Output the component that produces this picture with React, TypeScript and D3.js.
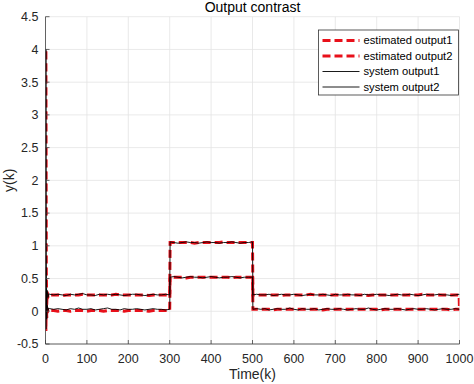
import React from 'react';
import * as d3 from 'd3';

// sample instants (k)
const kTimes = [
  0, 1, 2, 3, 4, 6, 8,
  10, 20, 30, 40, 50, 60, 70, 80, 90, 100, 110, 120, 130, 140, 150, 160, 170, 180, 190, 200,
  210, 220, 230, 240, 250, 260, 270, 280, 290, 300,
  301, 310, 320, 330, 340, 350, 360, 370, 380, 390, 400, 410, 420, 430, 440, 450, 460, 470, 480, 490, 500,
  501, 510, 520, 530, 540, 550, 560, 570, 580, 590, 600, 610, 620, 630, 640, 650, 660, 670, 680, 690, 700,
  710, 720, 730, 740, 750, 760, 770, 780, 790, 800, 810, 820, 830, 840, 850, 860, 870, 880, 890, 900,
  910, 920, 930, 940, 950, 960, 970, 980, 990, 999, 1000,
];

const estOutput1 = [
  0, 4.0, 0.6, 0.1, 0.3, 0.22, 0.25,
  0.25, 0.25, 0.25, 0.24, 0.25, 0.25, 0.25, 0.25, 0.26, 0.25, 0.25, 0.25, 0.25, 0.25, 0.25, 0.25, 0.26, 0.25, 0.25, 0.25,
  0.25, 0.25, 0.25, 0.25, 0.24, 0.25, 0.25, 0.25, 0.25, 0.25,
  1.05, 1.05, 1.05, 1.05, 1.05, 1.05, 1.04, 1.05, 1.05, 1.05, 1.05, 1.05, 1.05, 1.06, 1.05, 1.05, 1.05, 1.05, 1.05, 1.05, 1.05,
  0.25, 0.25, 0.25, 0.25, 0.25, 0.25, 0.25, 0.24, 0.25, 0.25, 0.25, 0.25, 0.25, 0.25, 0.26, 0.25, 0.25, 0.25, 0.25, 0.25,
  0.25, 0.25, 0.25, 0.25, 0.25, 0.25, 0.25, 0.25, 0.24, 0.25, 0.25, 0.25, 0.25, 0.25, 0.25, 0.25, 0.25, 0.25, 0.25, 0.25,
  0.25, 0.26, 0.25, 0.25, 0.25, 0.25, 0.25, 0.25, 0.25, 0.25, 0.25, 0.03,
];

const estOutput2 = [
  0, -0.3, 0.25, -0.1, 0.05, 0.0, 0.02,
  0.01, 0.01, 0.0, 0.01, 0.01, 0.0, 0.01, 0.01, 0.01, 0.0, 0.01, 0.01, 0.01, 0.0, 0.01, 0.01, 0.01, 0.01, 0.0, 0.01,
  0.01, 0.01, 0.01, 0.01, 0.0, 0.01, 0.01, 0.01, 0.01, 0.01,
  0.52, 0.52, 0.52, 0.52, 0.51, 0.52, 0.52, 0.52, 0.52, 0.52, 0.52, 0.52, 0.52, 0.52, 0.52, 0.51, 0.52, 0.52, 0.52, 0.52, 0.52,
  0.03, 0.03, 0.03, 0.03, 0.03, 0.02, 0.03, 0.03, 0.03, 0.03, 0.03, 0.03, 0.03, 0.03, 0.03, 0.03, 0.03, 0.02, 0.03, 0.03,
  0.03, 0.03, 0.03, 0.03, 0.03, 0.03, 0.03, 0.03, 0.03, 0.03, 0.03, 0.02, 0.03, 0.03, 0.03, 0.03, 0.03, 0.03, 0.03, 0.03,
  0.03, 0.03, 0.03, 0.03, 0.03, 0.03, 0.03, 0.03, 0.02, 0.03, 0.03, 0.03,
];

const sysOutput1 = [
  0, 4.0, 0.85, 0.05, 0.32, 0.21, 0.27,
  0.26, 0.25, 0.26, 0.25, 0.24, 0.26, 0.25, 0.26, 0.27, 0.25, 0.25, 0.24, 0.26, 0.25, 0.26, 0.25, 0.26, 0.25, 0.24, 0.25,
  0.26, 0.26, 0.25, 0.24, 0.25, 0.26, 0.25, 0.25, 0.26, 0.25,
  1.06, 1.05, 1.04, 1.05, 1.06, 1.05, 1.05, 1.04, 1.05, 1.06, 1.05, 1.05, 1.04, 1.05, 1.05, 1.06, 1.05, 1.04, 1.05, 1.05, 1.06,
  0.25, 0.26, 0.25, 0.25, 0.26, 0.24, 0.25, 0.26, 0.25, 0.25, 0.26, 0.25, 0.24, 0.25, 0.26, 0.25, 0.25, 0.26, 0.25, 0.24,
  0.26, 0.25, 0.25, 0.26, 0.25, 0.25, 0.24, 0.26, 0.25, 0.25, 0.26, 0.25, 0.25, 0.24, 0.25, 0.26, 0.25, 0.25, 0.26, 0.25,
  0.24, 0.25, 0.26, 0.25, 0.25, 0.26, 0.25, 0.25, 0.24, 0.25, 0.26, 0.25,
];

const sysOutput2 = [
  0, -0.27, 0.35, -0.12, 0.09, 0.01, 0.05,
  0.04, 0.03, 0.04, 0.03, 0.02, 0.04, 0.03, 0.05, 0.03, 0.03, 0.04, 0.02, 0.03, 0.04, 0.05, 0.03, 0.03, 0.02, 0.04, 0.03,
  0.03, 0.04, 0.03, 0.02, 0.03, 0.04, 0.03, 0.03, 0.02, 0.03,
  0.52, 0.53, 0.52, 0.51, 0.52, 0.53, 0.52, 0.52, 0.51, 0.52, 0.53, 0.52, 0.51, 0.52, 0.52, 0.53, 0.52, 0.51, 0.52, 0.52, 0.52,
  0.03, 0.04, 0.03, 0.04, 0.02, 0.03, 0.04, 0.03, 0.03, 0.05, 0.03, 0.02, 0.04, 0.03, 0.03, 0.04, 0.02, 0.03, 0.04, 0.03,
  0.03, 0.04, 0.03, 0.02, 0.03, 0.04, 0.03, 0.03, 0.05, 0.03, 0.02, 0.03, 0.04, 0.03, 0.03, 0.04, 0.03, 0.02, 0.03, 0.04,
  0.03, 0.03, 0.04, 0.03, 0.02, 0.03, 0.04, 0.03, 0.03, 0.04, 0.03, 0.03,
];

const xTicks = [0, 100, 200, 300, 400, 500, 600, 700, 800, 900, 1000];
const yTicks = [-0.5, 0, 0.5, 1, 1.5, 2, 2.5, 3, 3.5, 4, 4.5];

const legendItems = [
  { label: 'estimated output1', kind: 'est' },
  { label: 'estimated output2', kind: 'est' },
  { label: 'system output1', kind: 'sys' },
  { label: 'system output2', kind: 'sys' },
];

const width = 474;
const height = 384;
const margin = { top: 16.7, right: 14.5, bottom: 40, left: 45.5 };
const font = 'Liberation Sans, Arial, Helvetica, sans-serif';

export default function App() {
  const x = d3.scaleLinear().domain([0, 1000]).range([margin.left, width - margin.right]);
  const y = d3.scaleLinear().domain([-0.5, 4.5]).range([height - margin.bottom, margin.top]);

  const line = d3
    .line<number>()
    .x((_, i) => x(kTimes[i]))
    .y((d) => y(d));

  const x0 = x.range()[0];
  const x1 = x.range()[1];
  const y0 = y.range()[0];
  const y1 = y.range()[1];

  const legX = 318.5;
  const legY = 30;
  const legW = 140;
  const legH = 65;

  return (
    <svg
      width={width}
      height={height}
      style={{ position: 'absolute', left: 0, top: 0, background: '#fff' }}
      fontFamily={font}
    >
      <rect x={0} y={0} width={width} height={height} fill="#fff" />

      {/* grid */}
      <g stroke="#e3e3e3" strokeWidth={0.8}>
        {xTicks.map((t) => (
          <line key={'gx' + t} x1={x(t)} x2={x(t)} y1={y0} y2={y1} />
        ))}
        {yTicks.map((t) => (
          <line key={'gy' + t} x1={x0} x2={x1} y1={y(t)} y2={y(t)} />
        ))}
      </g>

      <defs>
        <clipPath id="plotClip">
          <rect x={x0} y={y1} width={x1 - x0} height={y0 - y1} />
        </clipPath>
      </defs>

      <g clipPath="url(#plotClip)" fill="none">
        <path d={line(estOutput1) || ''} stroke="#e8101a" strokeWidth={3} strokeDasharray="8,4" />
        <path d={line(estOutput2) || ''} stroke="#e8101a" strokeWidth={3} strokeDasharray="8,4" />
        <path d={line(sysOutput1) || ''} stroke="#000" strokeWidth={0.9} />
        <path d={line(sysOutput2) || ''} stroke="#000" strokeWidth={0.9} />
      </g>

      {/* axes */}
      <g stroke="#404040" strokeWidth={0.8}>
        <line x1={x0} x2={x0} y1={y0} y2={y1} />
        <line x1={x0} x2={x1} y1={y0} y2={y0} />
        {xTicks.map((t) => (
          <line key={'tx' + t} x1={x(t)} x2={x(t)} y1={y0} y2={y0 - 4} />
        ))}
        {yTicks.map((t) => (
          <line key={'ty' + t} x1={x0} x2={x0 + 4} y1={y(t)} y2={y(t)} />
        ))}
      </g>

      <g fontSize={12.5} fill="#262626">
        {xTicks.map((t) => (
          <text key={'lx' + t} x={x(t)} y={y0 + 19} textAnchor="middle">
            {t}
          </text>
        ))}
        {yTicks.map((t) => (
          <text key={'ly' + t} x={x0 - 7} y={y(t)} dy="0.35em" textAnchor="end">
            {t}
          </text>
        ))}
      </g>

      <text x={(x0 + x1) / 2} y={12} textAnchor="middle" fontSize={14} fill="#000">
        Output contrast
      </text>
      <text x={(x0 + x1) / 2} y={379} textAnchor="middle" fontSize={14} fill="#262626">
        Time(k)
      </text>
      <text
        transform={`translate(14, ${(y0 + y1) / 2}) rotate(-90)`}
        textAnchor="middle"
        fontSize={14}
        fill="#262626"
      >
        y(k)
      </text>

      {/* legend */}
      <rect x={legX} y={legY} width={legW} height={legH} fill="#fff" stroke="#333" strokeWidth={0.8} />
      {legendItems.map((item, i) => {
        const cy = legY + 10.5 + i * 15.5;
        return (
          <g key={item.label}>
            {item.kind === 'est' ? (
              <line x1={legX + 4} x2={legX + 41} y1={cy} y2={cy} stroke="#e8101a" strokeWidth={3} strokeDasharray="8,4" />
            ) : (
              <line x1={legX + 4} x2={legX + 41} y1={cy} y2={cy} stroke="#000" strokeWidth={0.9} />
            )}
            <text x={legX + 45} y={cy} dy="0.35em" fontSize={11.2} fill="#000">
              {item.label}
            </text>
          </g>
        );
      })}
    </svg>
  );
}
